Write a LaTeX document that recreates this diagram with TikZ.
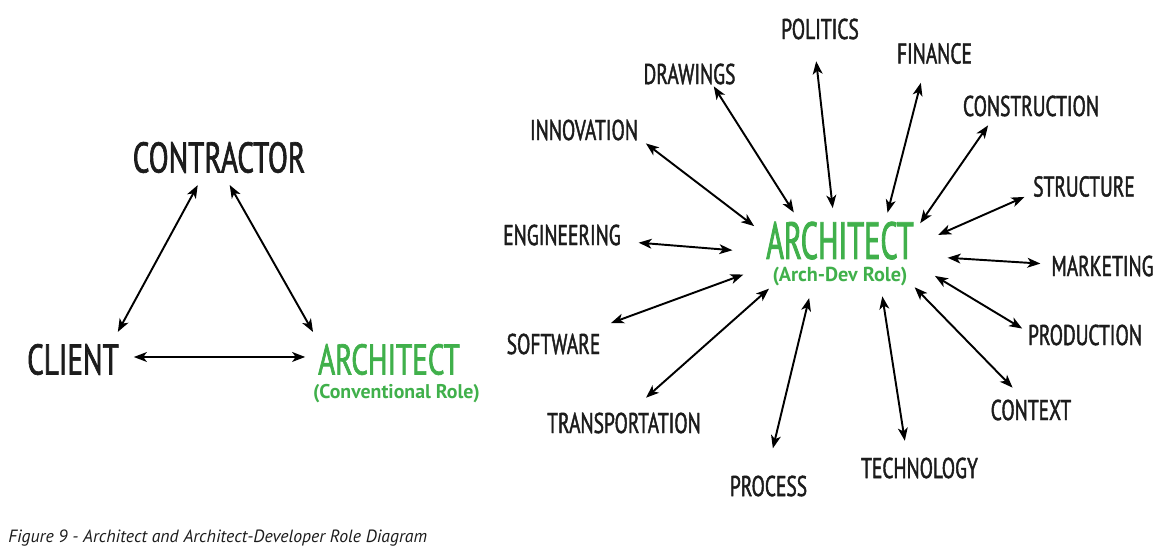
\documentclass[tikz,border=0pt]{standalone}
\usepackage{fontspec}
\setmainfont{PT Sans}
\newfontfamily\capsfont[FakeStretch=0.68,FakeBold=1.5]{PT Sans}
\newfontfamily\hubfont[FakeStretch=0.58,FakeBold=1.5]{PT Sans}
\usetikzlibrary{positioning,shapes.geometric,arrows.meta}
\definecolor{archgreen}{RGB}{64,176,75}
\definecolor{ink}{RGB}{28,28,28}

\tikzstyle{topic} = [inner sep=0.04cm, outer sep=0pt, text=ink, font=\capsfont\fontsize{16.3}{18}\selectfont]
\tikzstyle{party} = [inner sep=0.04cm, outer sep=0pt, text=ink, font=\capsfont\fontsize{24.4}{28}\selectfont]
\tikzstyle{hub} = [ellipse, inner sep=0pt, outer sep=0pt, minimum width=4.32cm, minimum height=1.84cm, align=center, text=archgreen, font=\bfseries\fontsize{11.5}{8}\selectfont]
\tikzstyle{rolenote} = [inner sep=0pt, outer sep=0pt, text=archgreen, font=\bfseries\fontsize{11.3}{13}\selectfont]
\tikzstyle{arrow} = [line width=1.1pt,<->,>={Stealth[length=7.4pt,width=5.6pt,inset=2pt]}]

\begin{document}
\begin{tikzpicture}[x=0.02cm, y=-0.02cm]
	\useasboundingbox (0,0) rectangle (1164,559);
	% Place nodes: conventional role
	\node [party] (contractor) at (219,157.5) {CONTRACTOR};
	\node [party] (client) at (73,359.5) {CLIENT};
	\node [party, text=archgreen] (archL) at (389,359.5) {ARCHITECT};
	\node [rolenote, below=0.14cm of archL, xshift=0.15cm] (roleL) {(Conventional Role)};
	% Place nodes: arch-dev role
	\node [hub] (hub) at (840,254) {{\hubfont\mdseries\fontsize{29.8}{30}\selectfont ARCHITECT}\\[3.5pt](Arch-Dev Role)};
	\node [topic] (politics) at (820,29) {POLITICS};
	\node [topic] (finance) at (934.5,53.5) {FINANCE};
	\node [topic] (drawings) at (689.5,74) {DRAWINGS};
	\node [topic] (construction) at (1031,106) {CONSTRUCTION};
	\node [topic] (innovation) at (584,130) {INNOVATION};
	\node [topic] (structure) at (1084,186.5) {STRUCTURE};
	\node [topic] (engineering) at (562,235) {ENGINEERING};
	\node [topic] (marketing) at (1102.5,266) {MARKETING};
	\node [topic] (software) at (553.5,344) {SOFTWARE};
	\node [topic] (production) at (1085,335) {PRODUCTION};
	\node [topic] (transportation) at (624,423) {TRANSPORTATION};
	\node [topic] (context) at (1031,410) {CONTEXT};
	\node [topic] (process) at (768.5,486) {PROCESS};
	\node [topic] (technology) at (919.5,468) {TECHNOLOGY};
	\node [anchor=base west, inner sep=0pt, text=ink, font=\itshape\fontsize{10.1}{12}\selectfont] (caption) at (8,542) {Figure 9 - Architect and Architect-Developer Role Diagram};
	% Draw edges: triangle
	\draw [arrow, shorten <=0.23cm, shorten >=0.23cm] (client.24) -- (contractor.228);
	\draw [arrow, shorten <=0.23cm, shorten >=0.23cm] (contractor.286) -- (archL.166);
	\draw [arrow, shorten <=0.26cm, shorten >=0.22cm] (client.3) -- (archL.178);
	% Draw edges: star
	\draw [arrow, shorten <=0.40cm] (politics.244) -- (hub.99);
	\draw [arrow, shorten <=0.35cm] (finance.233) -- (hub.41);
	\draw [arrow] (drawings.333) -- (hub.138);
	\draw [arrow, shorten <=0.17cm] (construction.198) -- (hub.21);
	\draw [arrow, shorten <=0.15cm] (innovation.351) -- (hub.162);
	\draw [arrow, shorten <=0.15cm] (structure.188) -- (hub.11);
	\draw [arrow, shorten <=0.32cm] (engineering.354) -- (hub.178);
	\draw [arrow, shorten <=0.18cm] (marketing.178) -- (hub.358);
	\draw [arrow, shorten <=0.50cm] (software.20) -- (hub.192);
	\draw [arrow, shorten <=0.09cm] (production.176) -- (hub.347);
	\draw [arrow, shorten <=0.39cm] (transportation.59) -- (hub.206);
	\draw [arrow, shorten <=0.28cm] (context.125) -- (hub.336);
	\draw [arrow, shorten <=0.52cm] (process.98) -- (hub.235);
	\draw [arrow, shorten <=0.30cm] (technology.135) -- (hub.315);
\end{tikzpicture}
\end{document}
